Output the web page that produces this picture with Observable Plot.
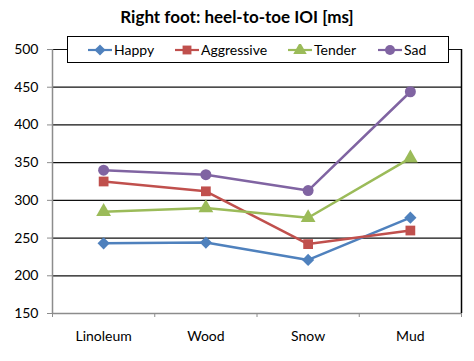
<!DOCTYPE html>
<html>
<head>
<meta charset="utf-8">
<script src="https://cdn.jsdelivr.net/npm/d3@7"></script>
<script src="https://cdn.jsdelivr.net/npm/@observablehq/plot@0.6"></script>
<style>
  html, body { margin: 0; padding: 0; background: #fff; }
  #wrap { position: relative; width: 474px; height: 361px; font-family: Lato, "Open Sans", sans-serif; }
  #title { height: 34px; line-height: 34px; text-align: center; font-weight: bold; font-size: 17px; color: #000; }
  #legend { position: absolute; left: 67px; top: 36px; width: 380px; height: 25px; border: 1px solid #000; background: #fff; font-size: 14px; color: #000; }
  .item { position: absolute; top: 0; height: 25px; line-height: 25px; white-space: nowrap; }
  .item svg { vertical-align: middle; margin-right: 2px; margin-top: -2px; }
</style>
</head>
<body>
<div id="wrap">
  <div id="title">Right foot: heel-to-toe IOI [ms]</div>
  <div id="chart"></div>
  <div id="legend"></div>
</div>
<script>
const categories = ["Linoleum", "Wood", "Snow", "Mud"];
const seriesNames = ["Happy", "Aggressive", "Tender", "Sad"];
const happy = [243, 244, 221, 277];
const aggressive = [325, 312, 242, 260];
const tender = [285, 290, 277, 356];
const sad = [340, 334, 313, 444];
const yTicks = [150, 200, 250, 300, 350, 400, 450, 500];
const colors = ["#4F81BD", "#C0504D", "#9BBB59", "#8064A2"];
const symbols = ["diamond2", "square", "triangle", "circle"];

const seriesValues = [happy, aggressive, tender, sad];
const data = [];
seriesNames.forEach((s, k) => seriesValues[k].forEach((v, i) => data.push({series: s, i, v})));

const boundaries = d3.range(categories.length + 1).map(i => i - 0.5);

const chart = Plot.plot({
  width: 474,
  height: 327,
  marginLeft: 52,
  marginRight: 13,
  marginTop: 15,
  marginBottom: 48,
  style: {fontFamily: "Lato, 'Open Sans', sans-serif", fontSize: "14px", color: "#000", background: "#fff"},
  x: {domain: [-0.5, categories.length - 0.5]},
  y: {domain: [150, 500]},
  color: {domain: seriesNames, range: colors},
  symbol: {domain: seriesNames, range: symbols},
  marks: [
    Plot.ruleY(yTicks.filter(v => v > 150), {y: d => d, stroke: "#111", strokeWidth: 1.2}),
    Plot.ruleY([150], {stroke: "#8c8c8c", strokeWidth: 1.5}),
    Plot.ruleX([-0.5], {stroke: "#8c8c8c", strokeWidth: 1.5}),
    Plot.ruleX([categories.length - 0.5], {stroke: "#000", strokeWidth: 1.5}),
    Plot.axisY({ticks: yTicks, tickSize: 5, tickPadding: 9, stroke: "#8c8c8c", label: null, fill: "#000"}),
    Plot.axisX({ticks: boundaries, tickFormat: () => "", tickSize: 4, stroke: "#8c8c8c", label: null}),
    Plot.axisX({ticks: d3.range(categories.length), tickFormat: i => categories[i], tickSize: 0, tickPadding: 18, label: null, fill: "#000"}),
    Plot.line(data, {x: "i", y: "v", z: "series", stroke: "series", strokeWidth: 2.5}),
    Plot.dot(data, {x: "i", y: "v", fill: "series", symbol: "series", r: 5.5, stroke: "none"})
  ]
});
document.getElementById("chart").appendChild(chart);

// legend
const legend = document.getElementById("legend");
const lefts = [20, 107, 220, 310];
const d3Symbols = {diamond2: d3.symbolDiamond2, square: d3.symbolSquare, triangle: d3.symbolTriangle, circle: d3.symbolCircle};
seriesNames.forEach((s, k) => {
  const item = document.createElement("div");
  item.className = "item";
  item.style.left = lefts[k] + "px";
  const sym = d3.symbol(d3Symbols[symbols[k]], Math.PI * 5 * 5)();
  item.innerHTML = `<svg width="24" height="12" viewBox="-12 -6 24 12"><line x1="-12" x2="12" y1="0" y2="0" stroke="${colors[k]}" stroke-width="2.2"/><path d="${sym}" fill="${colors[k]}"/></svg>${s}`;
  legend.appendChild(item);
});
</script>
</body>
</html>
